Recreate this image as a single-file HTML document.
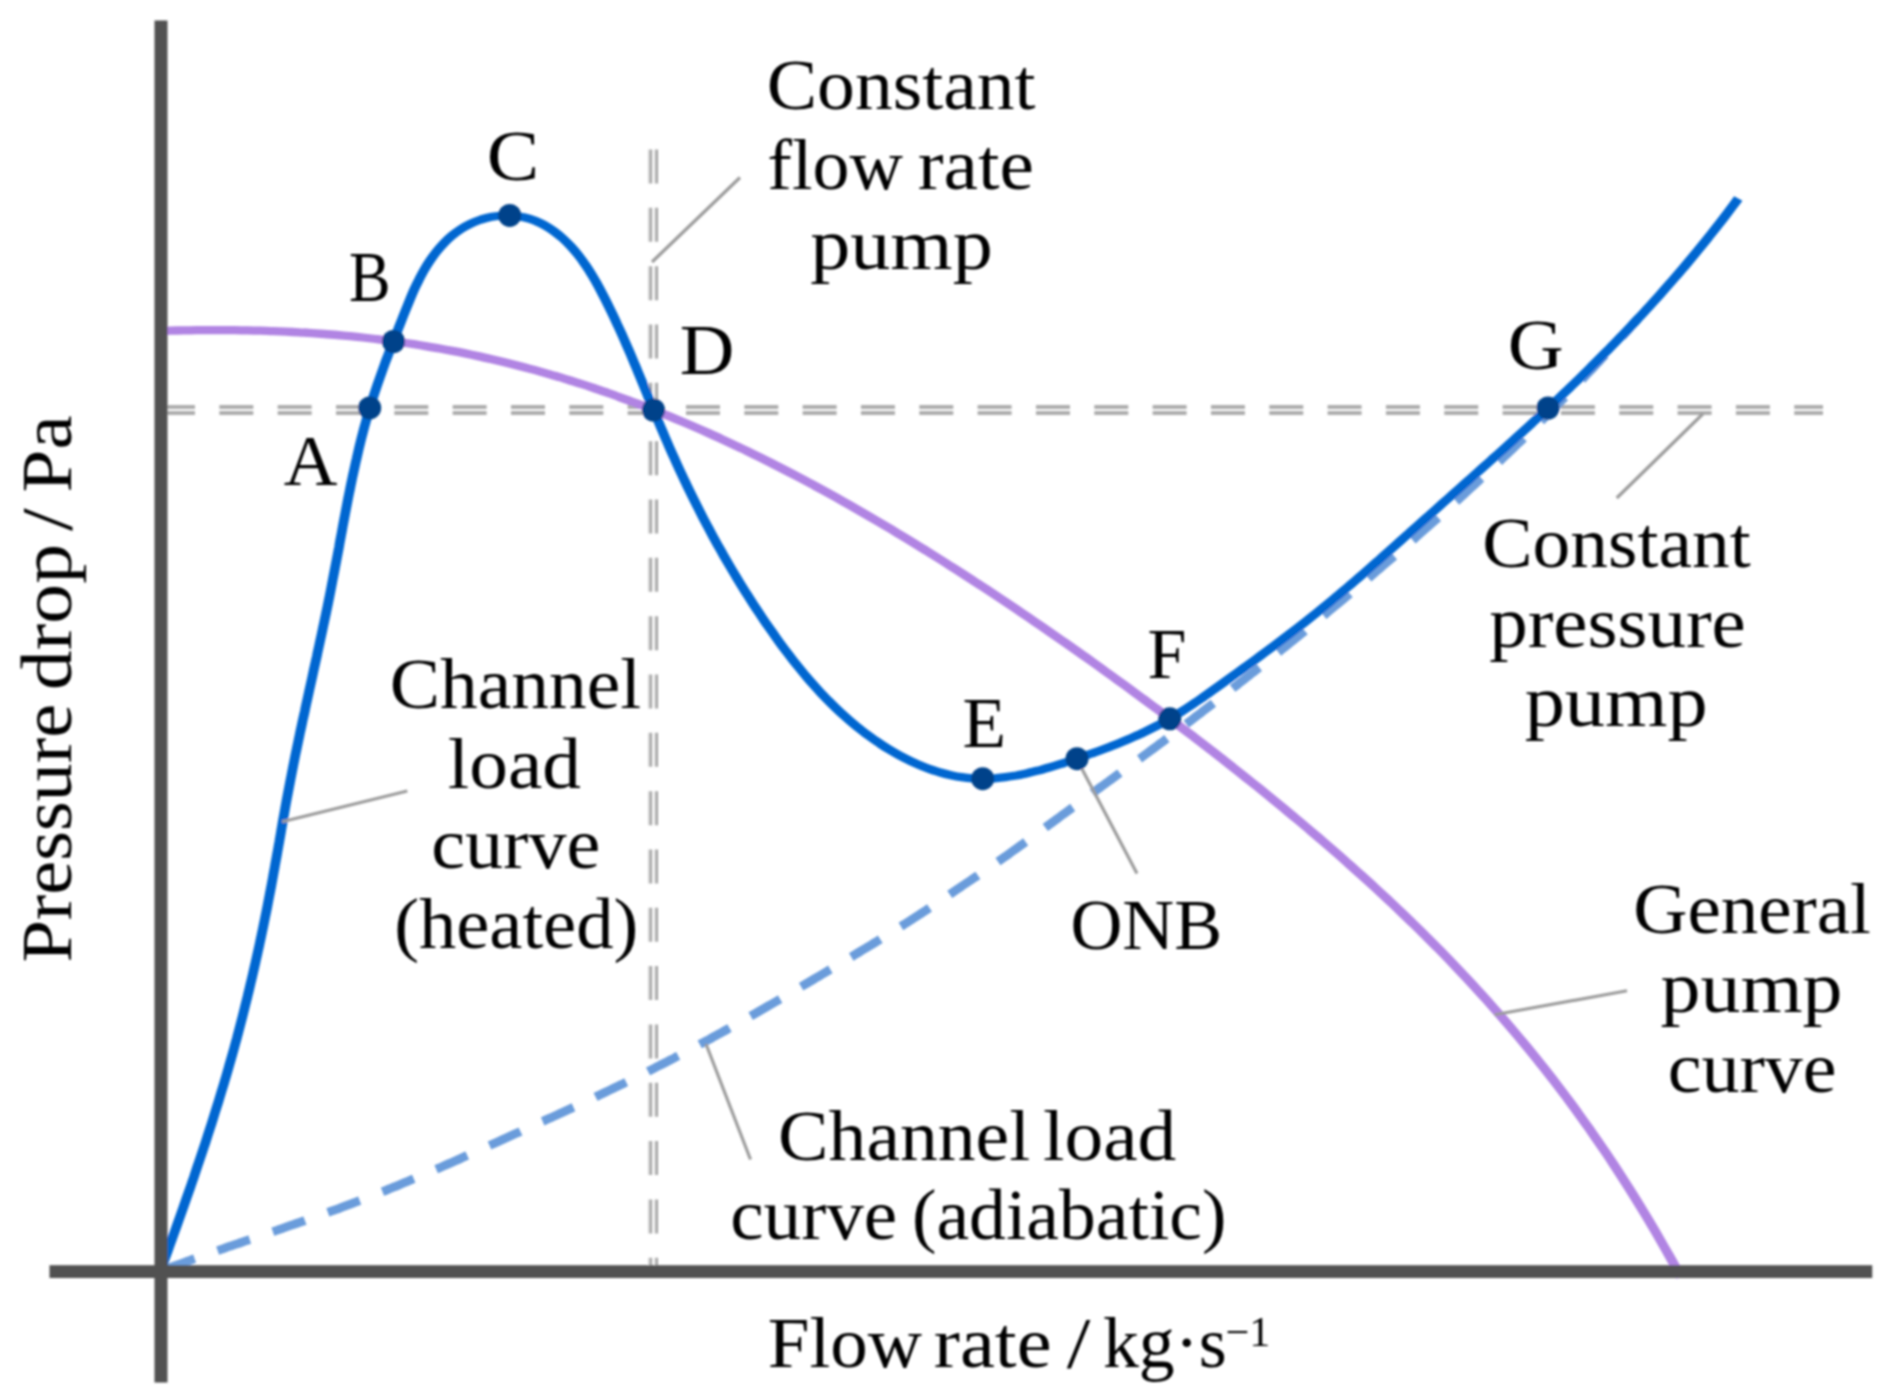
<!DOCTYPE html>
<html lang="en"><head><meta charset="utf-8"><title>Pressure drop vs flow rate</title>
<style>
html,body{margin:0;padding:0;background:#fff;}
body{width:1884px;height:1400px;overflow:hidden;}
svg{display:block;}
text{font-family:"Liberation Serif","DejaVu Serif",serif;font-size:71px;fill:#000;}
</style></head><body>
<svg width="1884" height="1400" viewBox="0 0 1884 1400">
<defs><filter id="soft" x="0" y="0" width="1884" height="1400" filterUnits="userSpaceOnUse"><feGaussianBlur stdDeviation="0.8"/></filter></defs>
<rect width="1884" height="1400" fill="#fff"/>
<g filter="url(#soft)">

<g fill="none" stroke-dasharray="34 24.33">
<path d="M161 407H1823M161 413H1823" stroke="#adadad" stroke-width="4"/>
<path d="M649 149.5V1268M655 149.5V1268" stroke="#d2d2d2" stroke-width="2"/>
<path d="M651 149.5V1268M657 149.5V1268" stroke="#9b9b9b" stroke-width="2"/>
</g>
<g transform="scale(1.170 1)" fill="none" stroke-width="8.3">
<path transform="scale(0.85470 1)" d="M159.5 1271.6C161.3 1270.8 163.2 1270.2 165.1 1269.5C166.9 1268.8 168.8 1268.1 170.6 1267.4C172.5 1266.7 174.4 1266.0 176.2 1265.3C178.1 1264.6 179.9 1264.0 181.8 1263.3C183.7 1262.6 185.5 1261.9 187.4 1261.2C189.3 1260.6 191.1 1259.9 193.0 1259.2C194.9 1258.6 196.7 1257.9 198.6 1257.2C200.5 1256.6 202.4 1255.9 204.2 1255.3C206.1 1254.6 208.0 1253.9 209.9 1253.3C211.7 1252.6 213.6 1252.0 215.5 1251.3C217.3 1250.7 219.2 1250.0 221.1 1249.4C223.0 1248.7 224.9 1248.1 226.7 1247.4C228.6 1246.8 230.5 1246.1 232.4 1245.5C234.2 1244.8 236.1 1244.2 238.0 1243.6C239.9 1242.9 241.8 1242.3 243.6 1241.6C245.5 1241.0 247.4 1240.3 249.3 1239.7C251.2 1239.1 253.0 1238.4 254.9 1237.8C256.8 1237.1 258.7 1236.5 260.6 1235.8C262.4 1235.2 264.3 1234.6 266.2 1233.9C268.1 1233.3 270.0 1232.6 271.8 1232.0C273.7 1231.4 275.6 1230.7 277.5 1230.1C279.4 1229.4 281.2 1228.8 283.1 1228.1C285.0 1227.5 286.9 1226.8 288.7 1226.2C290.6 1225.5 292.5 1224.9 294.4 1224.2C296.3 1223.6 298.1 1222.9 300.0 1222.3C301.9 1221.6 303.8 1221.0 305.6 1220.3C307.5 1219.7 309.4 1219.0 311.3 1218.3C313.1 1217.7 315.0 1217.0 316.9 1216.4C318.7 1215.7 320.6 1215.0 322.5 1214.4C324.4 1213.7 326.2 1213.0 328.1 1212.3C330.0 1211.7 331.8 1211.0 333.7 1210.3C335.6 1209.6 337.4 1209.0 339.3 1208.3C341.1 1207.6 343.0 1206.9 344.9 1206.2C346.7 1205.5 348.6 1204.8 350.4 1204.1C352.3 1203.4 354.2 1202.7 356.0 1202.0C357.9 1201.3 359.7 1200.6 361.6 1199.9C363.4 1199.2 365.3 1198.5 367.1 1197.7C369.0 1197.0 370.8 1196.3 372.7 1195.6C374.5 1194.8 376.4 1194.1 378.2 1193.4C380.1 1192.6 381.9 1191.9 383.7 1191.2C385.6 1190.4 387.4 1189.7 389.3 1188.9C391.1 1188.2 392.9 1187.4 394.8 1186.7C396.6 1185.9 398.5 1185.2 400.3 1184.4C402.1 1183.7 404.0 1182.9 405.8 1182.1C407.6 1181.4 409.4 1180.6 411.3 1179.8C413.1 1179.1 414.9 1178.3 416.8 1177.5C418.6 1176.8 420.4 1176.0 422.2 1175.2C424.1 1174.4 425.9 1173.6 427.7 1172.9C429.5 1172.1 431.4 1171.3 433.2 1170.5C435.0 1169.7 436.8 1168.9 438.7 1168.1C440.5 1167.3 442.3 1166.6 444.1 1165.8C445.9 1165.0 447.7 1164.2 449.6 1163.4C451.4 1162.6 453.2 1161.8 455.0 1161.0C456.8 1160.2 458.6 1159.4 460.5 1158.6C462.3 1157.8 464.1 1156.9 465.9 1156.1C467.7 1155.3 469.5 1154.5 471.3 1153.7C473.1 1152.9 475.0 1152.1 476.8 1151.3C478.6 1150.5 480.4 1149.7 482.2 1148.8C484.0 1148.0 485.8 1147.2 487.6 1146.4C489.4 1145.6 491.2 1144.8 493.0 1143.9C494.8 1143.1 496.7 1142.3 498.5 1141.5C500.3 1140.7 502.1 1139.9 503.9 1139.0C505.7 1138.2 507.5 1137.4 509.3 1136.6C511.1 1135.8 512.9 1134.9 514.7 1134.1C516.5 1133.3 518.3 1132.5 520.1 1131.7C521.9 1130.8 523.7 1130.0 525.5 1129.2C527.3 1128.4 529.1 1127.6 530.9 1126.7C532.7 1125.9 534.5 1125.1 536.3 1124.3C538.1 1123.4 539.9 1122.6 541.7 1121.8C543.6 1121.0 545.4 1120.2 547.2 1119.3C549.0 1118.5 550.8 1117.7 552.6 1116.9C554.4 1116.0 556.2 1115.2 558.0 1114.4C559.8 1113.5 561.5 1112.7 563.3 1111.9C565.1 1111.1 566.9 1110.2 568.7 1109.4C570.5 1108.6 572.3 1107.7 574.1 1106.9C575.9 1106.1 577.7 1105.2 579.5 1104.4C581.3 1103.6 583.1 1102.7 584.9 1101.9C586.7 1101.0 588.5 1100.2 590.3 1099.4C592.1 1098.5 593.9 1097.7 595.7 1096.8C597.4 1096.0 599.2 1095.1 601.0 1094.3C602.8 1093.4 604.6 1092.6 606.4 1091.7C608.2 1090.9 610.0 1090.0 611.8 1089.1C613.5 1088.3 615.3 1087.4 617.1 1086.6C618.9 1085.7 620.7 1084.8 622.5 1084.0C624.3 1083.1 626.0 1082.2 627.8 1081.4C629.6 1080.5 631.4 1079.6 633.2 1078.7C634.9 1077.9 636.7 1077.0 638.5 1076.1C640.3 1075.2 642.1 1074.3 643.8 1073.4C645.6 1072.6 647.4 1071.7 649.1 1070.8C650.9 1069.9 652.7 1069.0 654.5 1068.1C656.2 1067.2 658.0 1066.3 659.8 1065.4C661.5 1064.5 663.3 1063.6 665.1 1062.7C666.8 1061.8 668.6 1060.9 670.3 1060.0C672.1 1059.1 673.9 1058.2 675.6 1057.2C677.4 1056.3 679.1 1055.4 680.9 1054.5C682.7 1053.6 684.4 1052.6 686.2 1051.7C687.9 1050.8 689.7 1049.8 691.4 1048.9C693.2 1048.0 694.9 1047.0 696.6 1046.1C698.4 1045.2 700.1 1044.2 701.9 1043.3C703.6 1042.3 705.4 1041.4 707.1 1040.5C708.8 1039.5 710.6 1038.6 712.3 1037.6C714.0 1036.6 715.8 1035.7 717.5 1034.7C719.2 1033.8 721.0 1032.8 722.7 1031.9C724.4 1030.9 726.2 1029.9 727.9 1029.0C729.6 1028.0 731.4 1027.0 733.1 1026.1C734.8 1025.1 736.5 1024.1 738.3 1023.2C740.0 1022.2 741.7 1021.2 743.4 1020.2C745.2 1019.3 746.9 1018.3 748.6 1017.3C750.3 1016.3 752.0 1015.3 753.8 1014.3C755.5 1013.4 757.2 1012.4 758.9 1011.4C760.6 1010.4 762.3 1009.4 764.1 1008.4C765.8 1007.4 767.5 1006.4 769.2 1005.4C770.9 1004.5 772.6 1003.5 774.3 1002.5C776.1 1001.5 777.8 1000.5 779.5 999.5C781.2 998.5 782.9 997.5 784.6 996.5C786.3 995.5 788.0 994.5 789.7 993.5C791.4 992.5 793.2 991.5 794.9 990.4C796.6 989.4 798.3 988.4 800.0 987.4C801.7 986.4 803.4 985.4 805.1 984.4C806.8 983.4 808.5 982.4 810.2 981.4C811.9 980.4 813.6 979.4 815.3 978.3C817.0 977.3 818.7 976.3 820.5 975.3C822.2 974.3 823.9 973.3 825.6 972.3C827.3 971.2 829.0 970.2 830.7 969.2C832.4 968.2 834.1 967.2 835.8 966.2C837.5 965.1 839.2 964.1 840.9 963.1C842.6 962.1 844.3 961.1 846.0 960.0C847.7 959.0 849.4 958.0 851.1 957.0C852.8 956.0 854.5 954.9 856.2 953.9C857.9 952.9 859.6 951.9 861.3 950.8C863.0 949.8 864.7 948.8 866.4 947.8C868.1 946.7 869.8 945.7 871.5 944.7C873.2 943.6 874.9 942.6 876.6 941.6C878.3 940.5 879.9 939.5 881.6 938.4C883.3 937.4 885.0 936.4 886.7 935.3C888.4 934.3 890.1 933.2 891.7 932.2C893.4 931.1 895.1 930.1 896.8 929.0C898.5 928.0 900.1 926.9 901.8 925.9C903.5 924.8 905.1 923.7 906.8 922.7C908.5 921.6 910.1 920.6 911.8 919.5C913.5 918.4 915.1 917.4 916.8 916.3C918.5 915.2 920.1 914.1 921.8 913.0C923.4 912.0 925.1 910.9 926.7 909.8C928.4 908.7 930.0 907.6 931.7 906.5C933.3 905.4 934.9 904.3 936.6 903.2C938.2 902.2 939.8 901.1 941.5 900.0C943.1 898.9 944.8 897.7 946.4 896.6C948.0 895.5 949.7 894.4 951.3 893.3C952.9 892.2 954.5 891.1 956.2 890.0C957.8 888.9 959.4 887.8 961.1 886.7C962.7 885.6 964.3 884.5 966.0 883.4C967.6 882.3 969.2 881.2 970.9 880.1C972.5 879.0 974.1 877.9 975.8 876.8C977.4 875.7 979.0 874.6 980.7 873.5C982.3 872.4 983.9 871.3 985.5 870.2C987.2 869.0 988.8 867.9 990.4 866.8C992.0 865.7 993.7 864.6 995.3 863.5C996.9 862.3 998.5 861.2 1000.1 860.1C1001.7 859.0 1003.4 857.8 1005.0 856.7C1006.6 855.5 1008.2 854.4 1009.8 853.3C1011.4 852.1 1013.0 851.0 1014.6 849.8C1016.2 848.7 1017.8 847.5 1019.4 846.4C1021.0 845.2 1022.6 844.1 1024.2 842.9C1025.8 841.8 1027.4 840.6 1029.0 839.5C1030.6 838.3 1032.2 837.1 1033.8 836.0C1035.4 834.8 1037.0 833.6 1038.6 832.5C1040.2 831.3 1041.8 830.1 1043.3 829.0C1044.9 827.8 1046.5 826.6 1048.1 825.5C1049.7 824.3 1051.3 823.1 1052.9 822.0C1054.5 820.8 1056.1 819.6 1057.7 818.5C1059.3 817.3 1060.9 816.1 1062.4 814.9C1064.0 813.8 1065.6 812.6 1067.2 811.4C1068.8 810.3 1070.4 809.1 1072.0 807.9C1073.6 806.8 1075.2 805.6 1076.8 804.4C1078.4 803.3 1080.0 802.1 1081.6 800.9C1083.2 799.8 1084.8 798.6 1086.4 797.4C1088.0 796.3 1089.6 795.1 1091.2 794.0C1092.8 792.8 1094.4 791.6 1096.0 790.5C1097.6 789.3 1099.2 788.1 1100.8 787.0C1102.4 785.8 1104.0 784.7 1105.6 783.5C1107.2 782.3 1108.8 781.2 1110.4 780.0C1112.0 778.9 1113.6 777.7 1115.2 776.5C1116.8 775.4 1118.4 774.2 1120.0 773.0C1121.6 771.9 1123.2 770.7 1124.8 769.5C1126.4 768.4 1128.0 767.2 1129.6 766.0C1131.2 764.9 1132.8 763.7 1134.4 762.5C1136.0 761.4 1137.6 760.2 1139.2 759.0C1140.8 757.9 1142.4 756.7 1144.0 755.5C1145.6 754.3 1147.2 753.2 1148.8 752.0C1150.4 750.8 1152.0 749.6 1153.6 748.5C1155.1 747.3 1156.7 746.1 1158.3 744.9C1159.9 743.7 1161.5 742.6 1163.1 741.4C1164.7 740.2 1166.3 739.0 1167.9 737.8C1169.4 736.6 1171.0 735.5 1172.6 734.3C1174.2 733.1 1175.8 731.9 1177.4 730.7C1179.0 729.5 1180.5 728.3 1182.1 727.1C1183.7 725.9 1185.3 724.7 1186.9 723.5C1188.4 722.3 1190.0 721.1 1191.6 719.9C1193.2 718.7 1194.8 717.5 1196.3 716.3C1197.9 715.1 1199.5 713.9 1201.1 712.7C1202.6 711.5 1204.2 710.3 1205.8 709.1C1207.4 707.9 1208.9 706.7 1210.5 705.5C1212.1 704.3 1213.7 703.1 1215.2 701.9C1216.8 700.7 1218.4 699.5 1219.9 698.2C1221.5 697.0 1223.1 695.8 1224.6 694.6C1226.2 693.4 1227.8 692.2 1229.3 691.0C1230.9 689.7 1232.5 688.5 1234.0 687.3C1235.6 686.1 1237.2 684.9 1238.7 683.6C1240.3 682.4 1241.8 681.2 1243.4 680.0C1245.0 678.8 1246.5 677.5 1248.1 676.3C1249.6 675.1 1251.2 673.8 1252.8 672.6C1254.3 671.4 1255.9 670.2 1257.4 668.9C1259.0 667.7 1260.5 666.5 1262.1 665.2C1263.7 664.0 1265.2 662.8 1266.8 661.5C1268.3 660.3 1269.9 659.1 1271.4 657.8C1273.0 656.6 1274.5 655.3 1276.1 654.1C1277.6 652.9 1279.2 651.6 1280.7 650.4C1282.3 649.1 1283.8 647.9 1285.4 646.7C1286.9 645.4 1288.4 644.2 1290.0 642.9C1291.5 641.7 1293.1 640.4 1294.6 639.2C1296.2 637.9 1297.7 636.7 1299.2 635.4C1300.8 634.2 1302.3 632.9 1303.9 631.7C1305.4 630.4 1306.9 629.2 1308.5 627.9C1310.0 626.7 1311.6 625.4 1313.1 624.1C1314.6 622.9 1316.2 621.6 1317.7 620.4C1319.2 619.1 1320.8 617.8 1322.3 616.6C1323.8 615.3 1325.4 614.1 1326.9 612.8C1328.4 611.5 1330.0 610.3 1331.5 609.0C1333.0 607.7 1334.6 606.5 1336.1 605.2C1337.6 603.9 1339.1 602.7 1340.7 601.4C1342.2 600.1 1343.7 598.9 1345.2 597.6C1346.8 596.3 1348.3 595.0 1349.8 593.8C1351.3 592.5 1352.9 591.2 1354.4 589.9C1355.9 588.7 1357.4 587.4 1358.9 586.1C1360.5 584.8 1362.0 583.5 1363.5 582.3C1365.0 581.0 1366.5 579.7 1368.1 578.4C1369.6 577.1 1371.1 575.9 1372.6 574.6C1374.1 573.3 1375.6 572.0 1377.1 570.7C1378.7 569.4 1380.2 568.1 1381.7 566.8C1383.2 565.6 1384.7 564.3 1386.2 563.0C1387.7 561.7 1389.2 560.4 1390.7 559.1C1392.2 557.8 1393.7 556.5 1395.3 555.2C1396.8 553.9 1398.3 552.6 1399.8 551.3C1401.3 550.0 1402.8 548.7 1404.3 547.4C1405.8 546.1 1407.3 544.8 1408.8 543.5C1410.3 542.2 1411.8 540.9 1413.3 539.6C1414.8 538.3 1416.2 537.0 1417.7 535.7C1419.2 534.3 1420.7 533.0 1422.2 531.7C1423.7 530.4 1425.2 529.1 1426.7 527.8C1428.2 526.5 1429.7 525.2 1431.2 523.8C1432.6 522.5 1434.1 521.2 1435.6 519.9C1437.1 518.6 1438.6 517.2 1440.1 515.9C1441.5 514.6 1443.0 513.3 1444.5 511.9C1446.0 510.6 1447.5 509.3 1448.9 508.0C1450.4 506.6 1451.9 505.3 1453.4 504.0C1454.8 502.6 1456.3 501.3 1457.8 500.0C1459.3 498.6 1460.7 497.3 1462.2 496.0C1463.7 494.6 1465.1 493.3 1466.6 491.9C1468.1 490.6 1469.5 489.3 1471.0 487.9C1472.4 486.6 1473.9 485.2 1475.4 483.9C1476.8 482.5 1478.3 481.2 1479.7 479.8C1481.2 478.5 1482.7 477.1 1484.1 475.8C1485.6 474.4 1487.0 473.1 1488.5 471.7C1489.9 470.4 1491.4 469.0 1492.8 467.7C1494.3 466.3 1495.7 464.9 1497.2 463.6C1498.6 462.2 1500.0 460.8 1501.5 459.5C1502.9 458.1 1504.4 456.7 1505.8 455.4C1507.3 454.0 1508.7 452.6 1510.1 451.3C1511.6 449.9 1513.0 448.5 1514.4 447.1C1515.9 445.8 1517.3 444.4 1518.7 443.0C1520.1 441.6 1521.6 440.3 1523.0 438.9C1524.4 437.5 1525.8 436.1 1527.3 434.7C1528.7 433.3 1530.1 432.0 1531.5 430.6C1532.9 429.2 1534.4 427.8 1535.8 426.4C1537.2 425.0 1538.6 423.6 1540.0 422.2C1541.4 420.8 1542.8 419.4 1544.2 418.0C1545.7 416.6 1547.1 415.2 1548.5 413.8C1549.9 412.4 1551.3 411.0 1552.7 409.6C1554.1 408.2 1555.5 406.8 1556.9 405.4C1558.3 404.0 1559.7 402.5 1561.1 401.1C1562.4 399.7 1563.8 398.3 1565.2 396.9C1566.6 395.5 1568.0 394.0 1569.4 392.6C1570.8 391.2 1572.2 389.8 1573.5 388.3C1574.9 386.9 1576.3 385.5 1577.7 384.1C1579.1 382.6 1580.4 381.2 1581.8 379.8C1583.2 378.3 1584.6 376.9 1585.9 375.5C1587.3 374.0 1588.7 372.6 1590.0 371.1C1591.4 369.7 1592.8 368.3 1594.1 366.8C1595.5 365.4 1596.8 363.9 1598.2 362.5C1599.5 361.0 1600.9 359.6 1602.3 358.1C1603.6 356.7 1605.0 355.2 1606.3 353.7C1607.7 352.3 1609.0 350.8 1610.3 349.4C1611.7 347.9 1613.0 346.4 1614.4 345.0C1615.7 343.5 1617.1 342.0 1618.4 340.6C1619.7 339.1 1621.1 337.6 1622.4 336.1C1623.7 334.7 1625.0 333.2 1626.4 331.7C1627.7 330.2 1629.0 328.8 1630.3 327.3C1631.7 325.8 1633.0 324.3 1634.3 322.8C1635.6 321.3 1636.9 319.8 1638.2 318.3" stroke="#6a9cdb" stroke-width="8.8" stroke-dasharray="34 24.33" stroke-dashoffset="-3.5"/>
<path d="M135.0 331.0C138.7 330.9 142.3 330.7 146.0 330.6C149.6 330.5 153.3 330.5 156.9 330.4C160.6 330.3 164.2 330.3 167.9 330.2C171.5 330.2 175.2 330.1 178.8 330.1C182.4 330.1 186.1 330.1 189.7 330.1C193.4 330.1 197.0 330.2 200.7 330.2C204.3 330.3 208.0 330.3 211.6 330.4C215.3 330.5 218.9 330.6 222.6 330.7C226.2 330.8 229.8 331.0 233.5 331.1C237.1 331.3 240.8 331.5 244.4 331.7C248.1 331.9 251.7 332.1 255.4 332.3C259.0 332.5 262.7 332.8 266.3 333.1C270.0 333.4 273.6 333.7 277.2 334.0C280.9 334.3 284.5 334.7 288.2 335.0C291.8 335.4 295.5 335.8 299.1 336.2C302.8 336.6 306.4 337.0 310.1 337.5C313.7 338.0 317.4 338.5 321.0 339.0C324.6 339.5 328.3 340.0 331.9 340.6C335.6 341.1 339.2 341.7 342.9 342.3C346.5 342.9 350.2 343.6 353.8 344.2C357.5 344.9 361.1 345.6 364.8 346.3C368.4 347.0 372.0 347.7 375.7 348.5C379.3 349.3 383.0 350.1 386.6 350.9C390.3 351.7 393.9 352.5 397.6 353.4C401.2 354.3 404.9 355.2 408.5 356.1C412.2 357.0 415.8 358.0 419.4 359.0C423.1 360.0 426.7 361.0 430.4 362.0C434.0 363.0 437.7 364.1 441.3 365.2C445.0 366.3 448.6 367.4 452.3 368.6C455.9 369.7 459.6 370.9 463.2 372.1C466.9 373.3 470.5 374.5 474.1 375.8C477.8 377.0 481.4 378.3 485.1 379.6C488.7 381.0 492.4 382.3 496.0 383.7C499.7 385.0 503.3 386.4 507.0 387.9C510.6 389.3 514.3 390.7 517.9 392.2C521.5 393.7 525.2 395.2 528.8 396.8C532.5 398.3 536.1 399.9 539.8 401.5C543.4 403.1 547.1 404.7 550.7 406.3C554.4 408.0 558.0 409.6 561.7 411.3C565.3 413.0 568.9 414.8 572.6 416.5C576.2 418.3 579.9 420.1 583.5 421.9C587.2 423.7 590.8 425.5 594.5 427.4C598.1 429.2 601.8 431.1 605.4 433.0C609.1 434.9 612.7 436.9 616.3 438.8C620.0 440.8 623.6 442.8 627.3 444.8C630.9 446.8 634.6 448.8 638.2 450.9C641.9 453.0 645.5 455.1 649.2 457.2C652.8 459.3 656.5 461.4 660.1 463.6C663.7 465.7 667.4 467.9 671.0 470.1C674.7 472.3 678.3 474.5 682.0 476.8C685.6 479.0 689.3 481.3 692.9 483.6C696.6 485.9 700.2 488.2 703.9 490.6C707.5 492.9 711.1 495.2 714.8 497.6C718.4 500.0 722.1 502.4 725.7 504.8C729.4 507.3 733.0 509.7 736.7 512.2C740.3 514.6 744.0 517.1 747.6 519.6C751.3 522.1 754.9 524.6 758.6 527.2C762.2 529.7 765.8 532.3 769.5 534.9C773.1 537.4 776.8 540.0 780.4 542.6C784.1 545.3 787.7 547.9 791.4 550.5C795.0 553.2 798.7 555.9 802.3 558.5C806.0 561.2 809.6 563.9 813.2 566.7C816.9 569.4 820.5 572.1 824.2 574.9C827.8 577.6 831.5 580.4 835.1 583.2C838.8 585.9 842.4 588.7 846.1 591.6C849.7 594.4 853.4 597.2 857.0 600.0C860.6 602.9 864.3 605.7 867.9 608.6C871.6 611.5 875.2 614.4 878.9 617.3C882.5 620.2 886.2 623.1 889.8 626.0C893.5 629.0 897.1 631.9 900.8 634.9C904.4 637.8 908.0 640.8 911.7 643.8C915.3 646.8 919.0 649.8 922.6 652.8C926.3 655.8 929.9 658.8 933.6 661.9C937.2 664.9 940.9 668.0 944.5 671.1C948.2 674.1 951.8 677.2 955.4 680.3C959.1 683.4 962.7 686.5 966.4 689.6C970.0 692.8 973.7 695.9 977.3 699.0C981.0 702.2 984.6 705.4 988.3 708.5C991.9 711.7 995.6 714.9 999.2 718.1C1002.8 721.3 1006.5 724.6 1010.1 727.8C1013.8 731.0 1017.4 734.3 1021.1 737.6C1024.7 740.8 1028.4 744.1 1032.0 747.4C1035.7 750.7 1039.3 754.0 1043.0 757.4C1046.6 760.7 1050.3 764.0 1053.9 767.4C1057.5 770.8 1061.2 774.2 1064.8 777.6C1068.5 781.0 1072.1 784.4 1075.8 787.8C1079.4 791.3 1083.1 794.7 1086.7 798.2C1090.4 801.7 1094.0 805.2 1097.7 808.7C1101.3 812.3 1104.9 815.8 1108.6 819.4C1112.2 822.9 1115.9 826.5 1119.5 830.2C1123.2 833.8 1126.8 837.4 1130.5 841.1C1134.1 844.8 1137.8 848.5 1141.4 852.2C1145.1 855.9 1148.7 859.7 1152.3 863.5C1156.0 867.2 1159.6 871.1 1163.3 874.9C1166.9 878.8 1170.6 882.6 1174.2 886.5C1177.9 890.5 1181.5 894.4 1185.2 898.4C1188.8 902.4 1192.5 906.4 1196.1 910.5C1199.7 914.5 1203.4 918.6 1207.0 922.8C1210.7 926.9 1214.3 931.1 1218.0 935.4C1221.6 939.6 1225.3 943.9 1228.9 948.2C1232.6 952.5 1236.2 956.9 1239.9 961.3C1243.5 965.8 1247.1 970.2 1250.8 974.8C1254.4 979.3 1258.1 983.9 1261.7 988.6C1265.4 993.2 1269.0 997.9 1272.7 1002.7C1276.3 1007.5 1280.0 1012.3 1283.6 1017.2C1287.3 1022.1 1290.9 1027.1 1294.5 1032.1C1298.2 1037.2 1301.8 1042.3 1305.5 1047.5C1309.1 1052.7 1312.8 1058.0 1316.4 1063.3C1320.1 1068.7 1323.7 1074.1 1327.4 1079.6C1331.0 1085.1 1334.7 1090.7 1338.3 1096.4C1341.9 1102.1 1345.6 1107.9 1349.2 1113.8C1352.9 1119.7 1356.5 1125.7 1360.2 1131.8C1363.8 1137.9 1367.5 1144.0 1371.1 1150.3C1374.8 1156.6 1378.4 1163.1 1382.1 1169.6C1385.7 1176.1 1389.4 1182.8 1393.0 1189.5C1396.6 1196.3 1400.3 1203.2 1403.9 1210.2C1407.6 1217.2 1411.2 1224.4 1414.9 1231.6C1418.5 1238.9 1422.2 1246.4 1425.8 1253.9C1429.5 1261.5 1433.1 1269.2 1436.8 1277.1" stroke="#b184e3"/>
<path d="M137.2 1271.0C138.2 1267.5 139.3 1264.0 140.4 1260.5C141.5 1257.0 142.6 1253.5 143.7 1250.0C144.7 1246.5 145.8 1243.0 146.9 1239.5C148.0 1236.1 149.0 1232.6 150.1 1229.1C151.2 1225.6 152.2 1222.0 153.3 1218.5C154.4 1215.0 155.4 1211.5 156.5 1208.0C157.5 1204.5 158.6 1201.0 159.6 1197.5C160.7 1194.0 161.7 1190.5 162.8 1187.0C163.8 1183.4 164.8 1179.9 165.9 1176.4C166.9 1172.9 167.9 1169.4 168.9 1165.8C170.0 1162.3 171.0 1158.8 172.0 1155.2C173.0 1151.7 174.0 1148.2 175.0 1144.7C176.0 1141.1 177.0 1137.6 177.9 1134.0C178.9 1130.5 179.9 1127.0 180.9 1123.4C181.8 1119.9 182.8 1116.3 183.7 1112.8C184.7 1109.2 185.6 1105.7 186.6 1102.1C187.5 1098.6 188.4 1095.0 189.3 1091.5C190.3 1087.9 191.2 1084.3 192.1 1080.8C193.0 1077.2 193.9 1073.7 194.8 1070.1C195.6 1066.5 196.5 1062.9 197.4 1059.4C198.3 1055.8 199.1 1052.2 200.0 1048.6C200.8 1045.0 201.6 1041.5 202.5 1037.9C203.3 1034.3 204.1 1030.7 204.9 1027.1C205.7 1023.5 206.5 1019.9 207.3 1016.3C208.1 1012.7 208.9 1009.1 209.6 1005.5C210.4 1001.9 211.2 998.3 211.9 994.7C212.7 991.1 213.4 987.5 214.1 983.9C214.9 980.3 215.6 976.6 216.3 973.0C217.0 969.4 217.7 965.8 218.4 962.2C219.1 958.5 219.8 954.9 220.5 951.3C221.2 947.7 221.9 944.0 222.5 940.4C223.2 936.8 223.8 933.1 224.5 929.5C225.1 925.9 225.8 922.2 226.4 918.6C227.0 914.9 227.7 911.3 228.3 907.7C228.9 904.0 229.5 900.4 230.1 896.7C230.7 893.1 231.3 889.4 231.9 885.8C232.5 882.1 233.1 878.5 233.6 874.8C234.2 871.2 234.8 867.5 235.3 863.8C235.9 860.2 236.5 856.5 237.0 852.9C237.6 849.2 238.1 845.5 238.7 841.9C239.2 838.2 239.8 834.6 240.3 830.9C240.8 827.2 241.4 823.6 241.9 819.9C242.5 816.3 243.1 812.6 243.6 808.9C244.2 805.3 244.7 801.6 245.3 798.0C245.9 794.3 246.5 790.7 247.1 787.0C247.7 783.4 248.3 779.7 248.9 776.1C249.5 772.4 250.1 768.8 250.7 765.2C251.4 761.5 252.0 757.9 252.6 754.2C253.3 750.6 253.9 747.0 254.6 743.3C255.2 739.7 255.9 736.1 256.5 732.4C257.2 728.8 257.9 725.2 258.5 721.5C259.2 717.9 259.9 714.3 260.6 710.7C261.2 707.0 261.9 703.4 262.6 699.8C263.3 696.1 264.0 692.5 264.6 688.9C265.3 685.3 266.0 681.6 266.7 678.0C267.4 674.4 268.0 670.7 268.7 667.1C269.4 663.5 270.1 659.9 270.8 656.2C271.4 652.6 272.1 649.0 272.8 645.3C273.5 641.7 274.1 638.1 274.8 634.4C275.5 630.8 276.1 627.1 276.8 623.5C277.5 619.9 278.1 616.2 278.8 612.6C279.4 608.9 280.1 605.3 280.7 601.7C281.3 598.0 282.0 594.4 282.6 590.7C283.2 587.1 283.8 583.4 284.4 579.7C285.0 576.1 285.6 572.4 286.2 568.8C286.8 565.1 287.4 561.4 288.0 557.8C288.6 554.1 289.2 550.4 289.8 546.8C290.3 543.1 290.9 539.4 291.5 535.8C292.1 532.1 292.7 528.4 293.2 524.8C293.8 521.1 294.4 517.4 295.0 513.8C295.6 510.1 296.2 506.5 296.8 502.8C297.4 499.2 298.0 495.5 298.7 491.8C299.3 488.2 299.9 484.5 300.6 480.9C301.2 477.3 301.9 473.6 302.6 470.0C303.3 466.4 303.9 462.7 304.7 459.1C305.4 455.5 306.1 451.9 306.8 448.3C307.6 444.6 308.3 441.0 309.1 437.4C309.9 433.9 310.7 430.3 311.5 426.7C312.4 423.1 313.2 419.5 314.1 416.0C315.0 412.4 315.9 408.8 316.8 405.3C317.8 401.8 318.7 398.2 319.7 394.7C320.7 391.2 321.7 387.6 322.7 384.1C323.8 380.6 324.8 377.1 325.9 373.6C327.0 370.1 328.0 366.6 329.1 363.1C330.2 359.6 331.4 356.2 332.5 352.7C333.6 349.2 334.7 345.7 335.9 342.2C337.0 338.8 338.2 335.3 339.4 331.8C340.5 328.4 341.7 324.9 342.9 321.4C344.0 318.0 345.2 314.5 346.4 311.0C347.6 307.6 348.8 304.1 350.0 300.6C351.2 297.2 352.4 293.8 353.7 290.3C355.0 286.9 356.4 283.5 357.9 280.2C359.3 276.8 360.8 273.5 362.4 270.2C364.0 266.9 365.7 263.7 367.5 260.6C369.3 257.5 371.2 254.5 373.2 251.5C375.2 248.6 377.3 245.8 379.5 243.1C381.7 240.5 384.0 237.9 386.4 235.6C388.9 233.2 391.4 231.0 394.1 229.0C396.7 227.0 399.5 225.2 402.4 223.6C405.2 222.0 408.2 220.7 411.2 219.5C414.2 218.4 417.3 217.5 420.4 216.8C423.5 216.2 426.7 215.7 429.8 215.6C433.0 215.4 436.1 215.4 439.2 215.8C442.4 216.1 445.4 216.7 448.5 217.5C451.5 218.3 454.5 219.4 457.4 220.7C460.2 222.1 463.1 223.7 465.8 225.5C468.5 227.3 471.1 229.3 473.7 231.5C476.2 233.7 478.7 236.0 481.1 238.5C483.4 241.0 485.7 243.7 487.9 246.4C490.1 249.2 492.2 252.1 494.2 255.0C496.2 258.0 498.1 261.0 499.9 264.2C501.8 267.3 503.5 270.5 505.2 273.7C506.9 277.0 508.6 280.3 510.2 283.6C511.8 286.9 513.3 290.3 514.8 293.7C516.3 297.0 517.8 300.4 519.2 303.8C520.6 307.2 522.0 310.5 523.4 313.9C524.8 317.3 526.1 320.6 527.4 324.0C528.8 327.4 530.1 330.7 531.4 334.1C532.7 337.5 533.9 340.8 535.2 344.2C536.5 347.6 537.7 351.0 539.0 354.4C540.2 357.8 541.4 361.2 542.6 364.6C543.9 368.0 545.1 371.5 546.3 374.9C547.5 378.3 548.7 381.7 549.9 385.2C551.1 388.6 552.3 392.0 553.5 395.5C554.7 398.9 555.9 402.4 557.2 405.8C558.4 409.2 559.6 412.7 560.8 416.1C562.0 419.5 563.2 423.0 564.5 426.4C565.7 429.8 567.0 433.2 568.2 436.6C569.5 440.1 570.7 443.5 572.0 446.9C573.3 450.3 574.6 453.7 575.9 457.1C577.2 460.5 578.5 463.8 579.8 467.2C581.1 470.6 582.5 474.0 583.8 477.3C585.2 480.7 586.6 484.0 587.9 487.4C589.3 490.7 590.7 494.1 592.1 497.4C593.5 500.7 594.9 504.0 596.4 507.4C597.8 510.7 599.3 514.0 600.7 517.3C602.2 520.6 603.6 523.9 605.1 527.1C606.6 530.4 608.1 533.7 609.6 536.9C611.2 540.2 612.7 543.5 614.2 546.7C615.8 549.9 617.4 553.2 618.9 556.4C620.5 559.6 622.1 562.8 623.7 566.0C625.3 569.2 626.9 572.4 628.6 575.6C630.2 578.8 631.9 582.0 633.5 585.1C635.2 588.3 636.9 591.5 638.6 594.6C640.3 597.7 642.0 600.9 643.7 604.0C645.5 607.1 647.2 610.2 649.0 613.3C650.8 616.4 652.5 619.5 654.3 622.6C656.1 625.6 658.0 628.7 659.8 631.7C661.6 634.8 663.5 637.8 665.3 640.8C667.2 643.9 669.1 646.9 671.0 649.9C672.9 652.8 674.9 655.8 676.8 658.7C678.8 661.7 680.8 664.6 682.8 667.5C684.8 670.4 686.8 673.3 688.8 676.1C690.9 678.9 693.0 681.8 695.1 684.5C697.2 687.3 699.3 690.1 701.5 692.8C703.7 695.5 705.9 698.2 708.1 700.8C710.3 703.5 712.6 706.1 714.9 708.6C717.2 711.2 719.5 713.7 721.9 716.2C724.2 718.7 726.6 721.1 729.1 723.5C731.5 725.9 734.0 728.2 736.5 730.5C739.0 732.8 741.6 735.0 744.2 737.2C746.7 739.4 749.4 741.5 752.1 743.6C754.7 745.7 757.4 747.7 760.2 749.7C762.9 751.6 765.7 753.5 768.5 755.3C771.4 757.1 774.2 758.8 777.1 760.4C780.0 762.1 782.9 763.6 785.8 765.1C788.8 766.5 791.7 767.9 794.7 769.1C797.7 770.3 800.7 771.5 803.7 772.5C806.7 773.5 809.8 774.4 812.8 775.2C815.9 776.0 818.9 776.7 822.0 777.2C825.1 777.7 828.2 778.1 831.3 778.4C834.4 778.6 837.5 778.7 840.6 778.7C843.7 778.7 846.8 778.5 849.9 778.3C853.1 778.0 856.2 777.7 859.3 777.2C862.4 776.7 865.5 776.1 868.7 775.5C871.8 774.8 874.9 774.1 878.0 773.2C881.2 772.4 884.3 771.5 887.4 770.6C890.5 769.6 893.6 768.6 896.7 767.5C899.8 766.5 902.9 765.4 906.0 764.2C909.1 763.1 912.2 761.9 915.2 760.7C918.3 759.5 921.3 758.3 924.4 757.1C927.4 755.8 930.5 754.6 933.5 753.3C936.5 752.1 939.5 750.8 942.5 749.5C945.5 748.2 948.5 746.9 951.4 745.5C954.4 744.1 957.3 742.7 960.3 741.3C963.2 739.9 966.1 738.4 969.0 736.9C971.9 735.4 974.8 733.9 977.6 732.3C980.5 730.7 983.3 729.1 986.1 727.4C988.9 725.7 991.7 724.0 994.5 722.2C997.2 720.5 1000.0 718.6 1002.7 716.7C1005.4 714.8 1008.1 712.9 1010.8 710.9C1013.5 708.9 1016.1 706.9 1018.8 704.8C1021.4 702.7 1024.0 700.6 1026.7 698.5C1029.3 696.4 1031.9 694.2 1034.5 692.0C1037.1 689.9 1039.7 687.7 1042.3 685.5C1044.9 683.3 1047.4 681.2 1050.0 679.0C1052.6 676.8 1055.2 674.6 1057.8 672.4C1060.4 670.3 1062.9 668.1 1065.5 665.9C1068.1 663.7 1070.6 661.5 1073.2 659.3C1075.8 657.1 1078.3 654.9 1080.9 652.7C1083.4 650.5 1086.0 648.3 1088.5 646.1C1091.1 643.8 1093.6 641.6 1096.1 639.4C1098.7 637.1 1101.2 634.9 1103.7 632.6C1106.2 630.4 1108.8 628.1 1111.3 625.8C1113.8 623.6 1116.3 621.3 1118.7 619.0C1121.2 616.7 1123.7 614.3 1126.2 612.0C1128.7 609.7 1131.1 607.3 1133.6 605.0C1136.0 602.6 1138.5 600.3 1140.9 597.9C1143.4 595.5 1145.8 593.1 1148.2 590.7C1150.6 588.3 1153.1 585.9 1155.5 583.5C1157.9 581.1 1160.3 578.6 1162.7 576.2C1165.1 573.8 1167.5 571.3 1169.9 568.9C1172.3 566.4 1174.7 564.0 1177.1 561.5C1179.5 559.0 1181.9 556.6 1184.2 554.1C1186.6 551.6 1189.0 549.2 1191.4 546.7C1193.8 544.2 1196.1 541.7 1198.5 539.3C1200.9 536.8 1203.3 534.3 1205.6 531.8C1208.0 529.4 1210.4 526.9 1212.8 524.4C1215.1 521.9 1217.5 519.4 1219.9 517.0C1222.2 514.5 1224.6 512.0 1227.0 509.6C1229.4 507.1 1231.7 504.6 1234.1 502.1C1236.5 499.7 1238.9 497.2 1241.2 494.7C1243.6 492.3 1246.0 489.8 1248.4 487.3C1250.7 484.9 1253.1 482.4 1255.5 480.0C1257.9 477.5 1260.2 475.0 1262.6 472.5C1265.0 470.1 1267.3 467.6 1269.7 465.1C1272.1 462.7 1274.4 460.2 1276.8 457.7C1279.2 455.2 1281.5 452.8 1283.9 450.3C1286.3 447.8 1288.6 445.3 1291.0 442.8C1293.3 440.3 1295.7 437.8 1298.0 435.3C1300.4 432.8 1302.7 430.3 1305.1 427.8C1307.4 425.3 1309.8 422.8 1312.1 420.3C1314.4 417.7 1316.8 415.2 1319.1 412.7C1321.4 410.1 1323.7 407.6 1326.1 405.1C1328.4 402.5 1330.7 400.0 1333.0 397.4C1335.3 394.8 1337.6 392.3 1339.9 389.7C1342.2 387.1 1344.5 384.5 1346.8 382.0C1349.1 379.4 1351.3 376.8 1353.6 374.2C1355.9 371.6 1358.1 369.0 1360.4 366.3C1362.7 363.7 1364.9 361.1 1367.1 358.5C1369.4 355.8 1371.6 353.2 1373.9 350.6C1376.1 347.9 1378.3 345.2 1380.5 342.6C1382.7 339.9 1384.9 337.2 1387.1 334.6C1389.3 331.9 1391.5 329.2 1393.7 326.5C1395.9 323.8 1398.1 321.1 1400.2 318.4C1402.4 315.7 1404.6 312.9 1406.7 310.2C1408.9 307.5 1411.0 304.7 1413.1 302.0C1415.3 299.2 1417.4 296.5 1419.5 293.7C1421.6 290.9 1423.7 288.1 1425.8 285.3C1427.9 282.6 1430.0 279.8 1432.1 276.9C1434.2 274.1 1436.2 271.3 1438.3 268.5C1440.4 265.7 1442.4 262.8 1444.4 260.0C1446.5 257.1 1448.5 254.3 1450.5 251.4C1452.6 248.5 1454.6 245.6 1456.6 242.7C1458.6 239.8 1460.5 236.9 1462.5 234.0C1464.5 231.1 1466.5 228.2 1468.4 225.3C1470.4 222.3 1472.3 219.4 1474.3 216.4C1476.2 213.5 1478.1 210.5 1480.0 207.5C1482.0 204.5 1483.9 201.5 1485.7 198.5" stroke="#0566d0"/>
</g>
<g stroke="#9c9c9c" stroke-width="3.2" fill="none">
<path d="M282.20 821.80L407.30 791.00"/>
<path d="M652.00 262.00L740.00 177.50"/>
<path d="M706.00 1044.00L750.50 1159.50"/>
<path d="M1082.00 769.00L1137.00 873.60"/>
<path d="M1703.00 413.75L1616.75 498.00"/>
<path d="M1494.60 1014.70L1627.00 990.80"/>
</g>
<g fill="#00428a">
<circle cx="369.70" cy="407.90" r="11.5"/>
<circle cx="393.50" cy="341.50" r="11.5"/>
<circle cx="509.70" cy="215.40" r="11.5"/>
<circle cx="653.50" cy="410.00" r="11.5"/>
<circle cx="982.70" cy="778.70" r="11.5"/>
<circle cx="1077.00" cy="758.70" r="11.5"/>
<circle cx="1169.80" cy="718.80" r="11.5"/>
<circle cx="1548.00" cy="408.00" r="11.5"/>
</g>
<g fill="#515151"><rect x="154.5" y="20.5" width="13" height="1362"/><rect x="49.5" y="1265.2" width="1822.75" height="12.8"/></g>
<text x="283.72" y="484.50" textLength="53.68" lengthAdjust="spacingAndGlyphs">A</text>
<text x="349.04" y="301.30" textLength="41.60" lengthAdjust="spacingAndGlyphs">B</text>
<text x="486.70" y="179.50" textLength="52.50" lengthAdjust="spacingAndGlyphs">C</text>
<text x="679.70" y="374.00" textLength="54.60" lengthAdjust="spacingAndGlyphs">D</text>
<text x="962.64" y="747.10" textLength="43.56" lengthAdjust="spacingAndGlyphs">E</text>
<text x="1147.45" y="678.00" textLength="38.95" lengthAdjust="spacingAndGlyphs">F</text>
<text x="1507.76" y="369.00" textLength="55.94" lengthAdjust="spacingAndGlyphs">G</text>
<text x="1070.45" y="948.80" textLength="151.75" lengthAdjust="spacingAndGlyphs">ONB</text>
<text x="766.70" y="109.00" textLength="268.80" lengthAdjust="spacingAndGlyphs">Constant</text>
<text x="767.30" y="188.50" textLength="135.54" lengthAdjust="spacingAndGlyphs">flow</text>
<text x="917.80" y="188.50" textLength="116.16" lengthAdjust="spacingAndGlyphs">rate</text>
<text x="810.20" y="268.50" textLength="182.60" lengthAdjust="spacingAndGlyphs">pump</text>
<text x="1482.20" y="567.00" textLength="268.55" lengthAdjust="spacingAndGlyphs">Constant</text>
<text x="1489.20" y="646.50" textLength="256.60" lengthAdjust="spacingAndGlyphs">pressure</text>
<text x="1524.70" y="726.25" textLength="182.85" lengthAdjust="spacingAndGlyphs">pump</text>
<text x="389.70" y="708.00" textLength="251.50" lengthAdjust="spacingAndGlyphs">Channel</text>
<text x="447.74" y="788.00" textLength="133.22" lengthAdjust="spacingAndGlyphs">load</text>
<text x="431.20" y="868.20" textLength="169.10" lengthAdjust="spacingAndGlyphs">curve</text>
<text x="394.20" y="947.70" textLength="244.10" lengthAdjust="spacingAndGlyphs">(heated)</text>
<text x="778.14" y="1159.50" textLength="252.06" lengthAdjust="spacingAndGlyphs">Channel</text>
<text x="1042.96" y="1159.50" textLength="133.22" lengthAdjust="spacingAndGlyphs">load</text>
<text x="730.20" y="1238.75" textLength="166.98" lengthAdjust="spacingAndGlyphs">curve</text>
<text x="911.92" y="1238.75" textLength="314.63" lengthAdjust="spacingAndGlyphs">(adiabatic)</text>
<text x="1633.20" y="932.50" textLength="237.75" lengthAdjust="spacingAndGlyphs">General</text>
<text x="1660.54" y="1012.30" textLength="182.01" lengthAdjust="spacingAndGlyphs">pump</text>
<text x="1667.70" y="1092.30" textLength="168.95" lengthAdjust="spacingAndGlyphs">curve</text>
<text x="767.70" y="1367.00" textLength="154.20" lengthAdjust="spacingAndGlyphs">Flow</text>
<text x="933.80" y="1367.00" textLength="117.72" lengthAdjust="spacingAndGlyphs">rate</text>
<text x="1066.84" y="1367.00" textLength="23.66" lengthAdjust="spacingAndGlyphs">/</text>
<text x="1102.92" y="1367.00" textLength="123.88" lengthAdjust="spacingAndGlyphs">kg·s</text>
<text x="1225.5" y="1346" style="font-size:42px" textLength="45" lengthAdjust="spacingAndGlyphs">−1</text>
<text transform="translate(71 962.62) rotate(-90)" x="0" y="0" textLength="258.76" lengthAdjust="spacingAndGlyphs">Pressure</text>
<text transform="translate(71 690.22) rotate(-90)" x="0" y="0" textLength="146.26" lengthAdjust="spacingAndGlyphs">drop</text>
<text transform="translate(71 530.92) rotate(-90)" x="0" y="0" textLength="22.76" lengthAdjust="spacingAndGlyphs">/</text>
<text transform="translate(71 492.38) rotate(-90)" x="0" y="0" textLength="76.94" lengthAdjust="spacingAndGlyphs">Pa</text>
</g></svg></body></html>
